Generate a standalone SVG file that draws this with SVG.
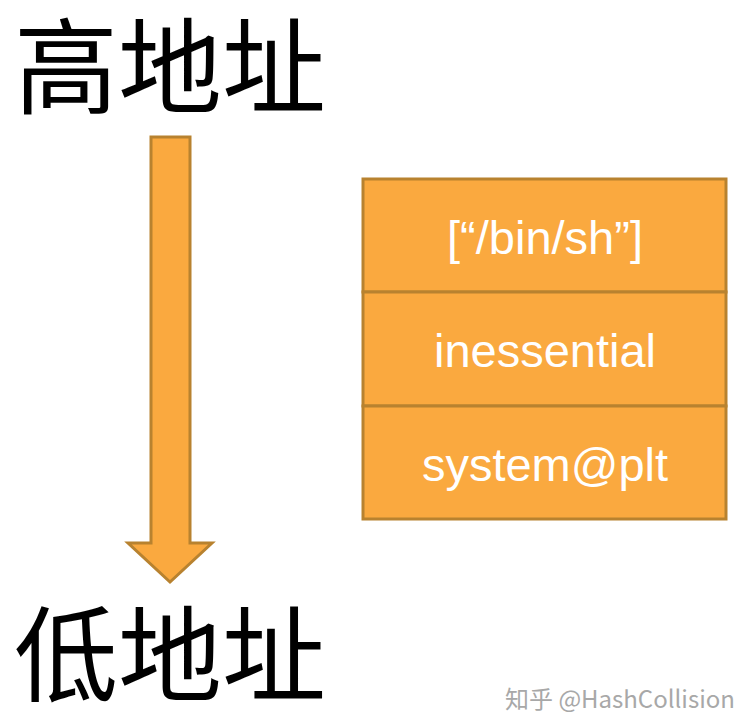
<svg xmlns="http://www.w3.org/2000/svg" width="755" height="727" viewBox="0 0 755 727">
<style>
.cn{font-family:"Noto Sans CJK SC","Noto Sans CJK JP",sans-serif;font-size:104px;fill:#000;}
.cell{fill:#FAA93F;stroke:#B8822F;stroke-width:3;}
.lbl{font-family:"Liberation Sans",Arial,sans-serif;font-size:47px;fill:#fff;text-anchor:middle;}
.wm{font-family:"Noto Sans CJK SC","Liberation Sans",sans-serif;font-size:24px;fill:#a8a8a8;}
</style>
<rect width="755" height="727" fill="#fff"/>
<g id="high"><text class="cn" x="14" y="106">高地址</text></g>
<g id="connectors">
<path d="M151,137 L190,137 L190,543 L212,543 L170,582 L128,543 L151,543 Z" fill="#FAA93F" stroke="#B8822F" stroke-width="3" stroke-linejoin="miter"/>
</g>
<g id="stack">
<g id="cell1"><rect class="cell" x="363" y="179" width="363" height="113"/><text class="lbl" x="545" y="254">[“/bin/sh”]</text></g>
<g id="cell2"><rect class="cell" x="363" y="292" width="363" height="114"/><text class="lbl" x="545" y="367">inessential</text></g>
<g id="cell3"><rect class="cell" x="363" y="406" width="363" height="113"/><text class="lbl" x="545" y="481">system@plt</text></g>
</g>
<g id="low"><text class="cn" x="14" y="694">低地址</text></g>
<text class="wm" x="505" y="708">知乎 @HashCollision</text>
</svg>
